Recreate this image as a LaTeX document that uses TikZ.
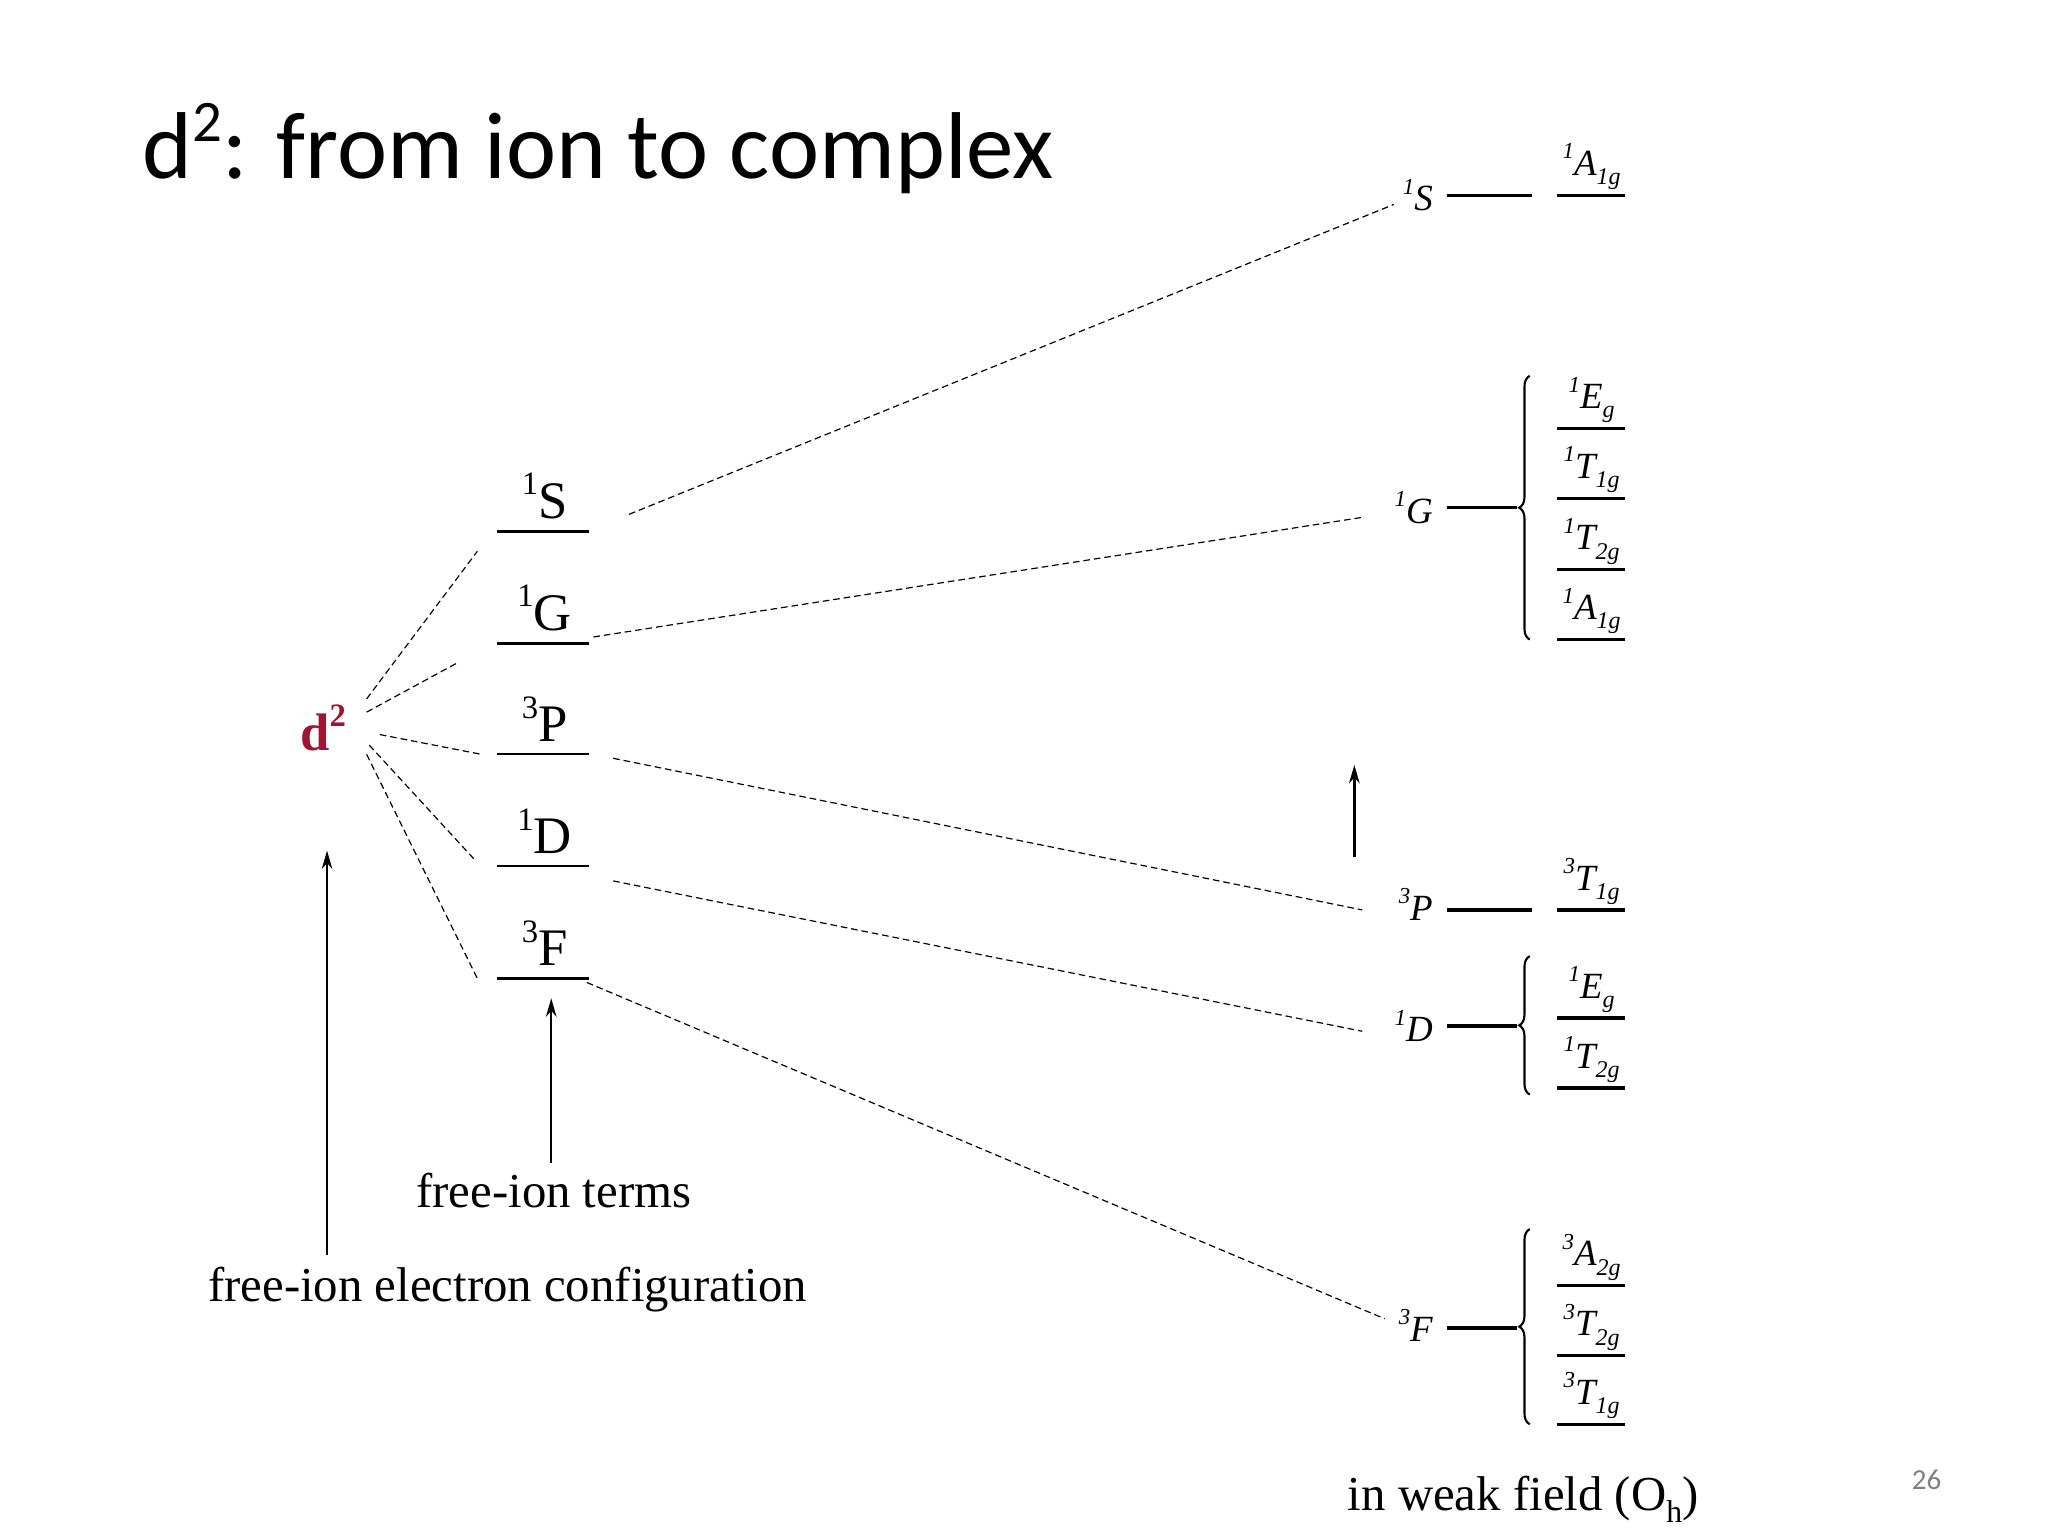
\documentclass[tikz,border=0pt]{standalone}
\usepackage{fontspec}
\setmainfont{Liberation Serif}
\newfontfamily\titlefont{Carlito}
\usetikzlibrary{arrows.meta,decorations.pathreplacing}
\newcommand{\sps}[1]{\raisebox{0.45em}{\scalebox{0.62}{#1}}}
\newcommand{\sbs}[1]{\raisebox{-0.25em}{\scalebox{0.65}{#1}}}
\begin{document}
\begin{tikzpicture}[x=1pt,y=-1pt,
  lvl/.style={line width=1.6pt},
  rlvl/.style={line width=2.4pt},
  dsh/.style={dash pattern=on 5pt off 3pt,line width=0.9pt},
  arr/.style={-{Stealth[length=14pt,width=8pt]},line width=1.5pt},
  term/.style={font=\fontsize{40}{40}\selectfont},
  rterm/.style={font=\fontsize{28}{28}\selectfont\itshape},
  sym/.style={font=\fontsize{28}{28}\selectfont\itshape,anchor=south},
  lab/.style={font=\fontsize{37}{37}\selectfont}]
\useasboundingbox (0,0) rectangle (1553,1165);
\node[anchor=base west,inner sep=0,font=\titlefont\fontsize{72}{72}\selectfont] (title) at (108,135) {d\raisebox{0.38em}{\scalebox{0.62}{2}}: from ion to complex};
\node[font=\titlefont\fontsize{22}{22}\selectfont,text=gray] (pg) at (1461,1122) {26};
\node[font=\fontsize{40}{40}\selectfont\bfseries,text={rgb,255:red,160;green,20;blue,50}] (d2) at (245,552) {d\sps{2}};
\foreach \n/\y/\t in {S/403/{\sps{1}S},G/488/{\sps{1}G},P/572/{\sps{3}P},D/657/{\sps{1}D},F/742/{\sps{3}F}}{
  \coordinate (l\n) at (377,\y); \coordinate (r\n) at (447,\y);
  \draw[lvl] (l\n) -- (r\n);
  \node[term,anchor=south] (t\n) at (413,\y-6) {\t};
}
\coordinate (a1) at (278,530); \coordinate (b1) at (362,418);
\coordinate (a2) at (278,540); \coordinate (b2) at (348,502);
\coordinate (a3) at (288,557); \coordinate (b3) at (365,572);
\coordinate (a4) at (280,565); \coordinate (b4) at (360,652);
\coordinate (a5) at (278,572); \coordinate (b5) at (362,742);
\foreach \i in {1,...,5} \draw[dsh] (a\i) -- (b\i);
\node[lab] (fit) at (420,903) {free-ion terms};
\node[lab] (fic) at (385,978) {free-ion electron configuration};
\coordinate (ar1) at (248,645); \coordinate (ar2) at (418,757);
\draw[arr] (248,952) -- (ar1);
\draw[arr] (418,882) -- (ar2);
\draw[arr,line width=2.2pt] (1027,650) -- (1027,580);
\node[rterm,anchor=east] (RS) at (1090,148) {\sps{1}S};
\node[rterm,anchor=east] (RG) at (1090,385) {\sps{1}G};
\node[rterm,anchor=east] (RP) at (1090,686) {\sps{3}P};
\node[rterm,anchor=east] (RD) at (1090,778) {\sps{1}D};
\node[rterm,anchor=east] (RF) at (1090,1005) {\sps{3}F};
\draw[line width=2.4pt] (1097,148) -- (1162,148);
\draw[line width=2.4pt] (1097,690) -- (1162,690);
\draw[line width=2.4pt] (1097,385) -- (1150,385);
\draw[line width=2.4pt] (1097,778) -- (1150,778);
\draw[line width=2.4pt] (1097,1007) -- (1150,1007);
\draw[line width=1.6pt,decorate,decoration={brace,amplitude=8pt,mirror}] (1160,285) -- (1160,485);
\draw[line width=1.6pt,decorate,decoration={brace,amplitude=8pt,mirror}] (1160,725) -- (1160,830);
\draw[line width=1.6pt,decorate,decoration={brace,amplitude=8pt,mirror}] (1160,932) -- (1160,1080);
\foreach \y/\t in {148/{\sps{1}A\sbs{1\textit{g}}},325/{\sps{1}E\sbs{g}},378/{\sps{1}T\sbs{1\textit{g}}},432/{\sps{1}T\sbs{2\textit{g}}},485/{\sps{1}A\sbs{1\textit{g}}},690/{\sps{3}T\sbs{1\textit{g}}},772/{\sps{1}E\sbs{g}},825/{\sps{1}T\sbs{2\textit{g}}},975/{\sps{3}A\sbs{2\textit{g}}},1028/{\sps{3}T\sbs{2\textit{g}}},1080/{\sps{3}T\sbs{1\textit{g}}}}{
  \draw[rlvl] (1181,\y) -- (1232,\y);
  \node[sym,inner sep=2pt] at (1207,\y-2) {\t};
}
\draw[dsh] (477,390) -- (1057,155);
\draw[dsh] (450,483) -- (1035,392);
\draw[dsh] (465,575) -- (1033,690);
\draw[dsh] (465,668) -- (1033,782);
\draw[dsh] (445,745) -- (1050,1000);
\node[lab] (wf) at (1155,1137) {in weak field (O\sbs{h})};
\end{tikzpicture}
\end{document}
